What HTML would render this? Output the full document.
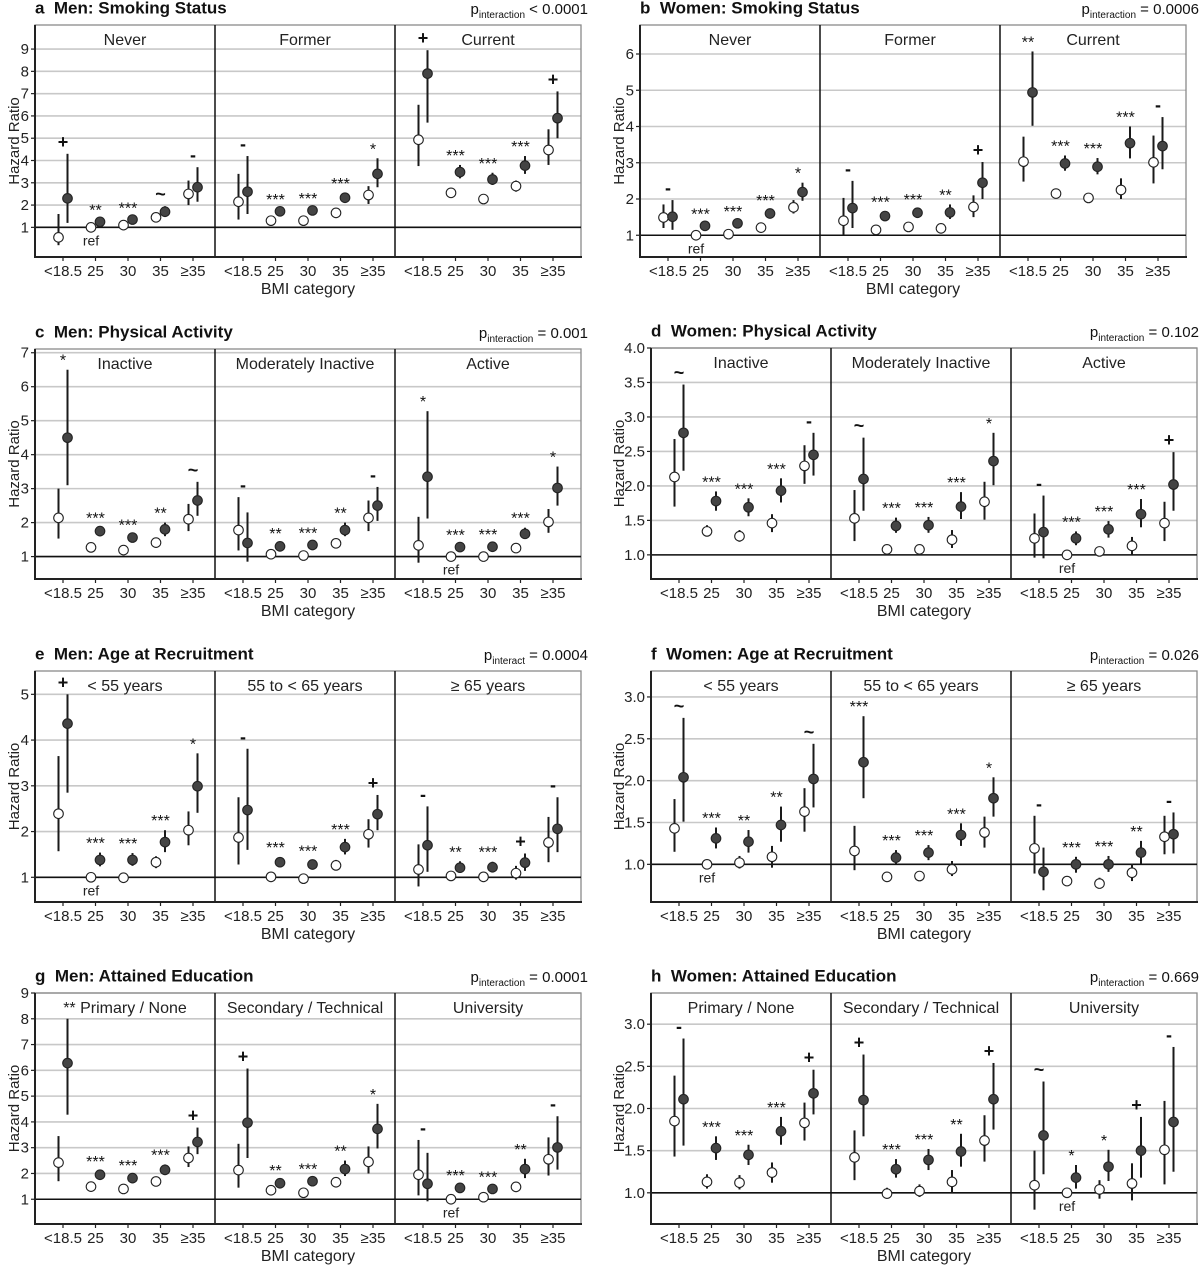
<!DOCTYPE html>
<html><head><meta charset="utf-8">
<style>
html,body{margin:0;padding:0;background:#fff;}
svg{display:block;font-family:"Liberation Sans",Arial,sans-serif;}
</style></head>
<body>
<svg id="chart" xmlns="http://www.w3.org/2000/svg" width="1200" height="1265" viewBox="0 0 1200 1265"></svg>
<script>
const CATS = ['<18.5','25','30','35','≥35'];

// Panel a: Men Smoking
const aOpenHR=[0.55,1.0,1.1,1.45,2.5, 2.15,1.3,1.3,1.65,2.45, 4.93,2.55,2.27,2.85,4.47];
const aOpenLo=[0.2,1.0,1.05,1.35,2.0, 1.35,1.22,1.22,1.57,2.05, 3.75,2.45,2.18,2.6,3.8];
const aOpenHi=[1.6,1.0,1.15,1.55,3.1, 3.4,1.4,1.4,1.75,2.85, 6.5,2.65,2.36,3.1,5.4];
const aFillHR=[2.3,1.25,1.35,1.7,2.8, 2.6,1.72,1.76,2.33,3.4, 7.9,3.48,3.15,3.77,5.9];
const aFillLo=[1.2,1.15,1.25,1.5,2.15, 1.6,1.62,1.66,2.15,2.8, 5.7,3.2,2.9,3.4,5.0];
const aFillHi=[4.3,1.35,1.45,1.95,3.7, 4.2,1.82,1.86,2.55,4.1, 8.95,3.8,3.45,4.2,7.1];
const aSig=['+','**','***','~','-', '-','***','***','***','*', '+','***','***','***','+'];
// Panel b: Women Smoking
const bOpenHR=[1.49,1.0,1.03,1.21,1.77, 1.4,1.15,1.23,1.19,1.78, 3.03,2.15,2.03,2.25,3.01];
const bOpenLo=[1.2,1.0,0.98,1.15,1.6, 1.0,1.1,1.17,1.1,1.5, 2.48,2.05,1.92,2.0,2.43];
const bOpenHi=[1.85,1.0,1.08,1.27,1.97, 2.03,1.2,1.29,1.3,2.1, 3.72,2.25,2.13,2.57,3.75];
const bFillHR=[1.51,1.26,1.33,1.6,2.19, 1.75,1.53,1.62,1.63,2.45, 4.94,2.98,2.89,3.54,3.46];
const bFillLo=[1.15,1.2,1.27,1.52,1.95, 1.2,1.43,1.5,1.45,2.0, 4.02,2.78,2.68,3.12,2.82];
const bFillHi=[1.97,1.32,1.39,1.7,2.45, 2.5,1.65,1.72,1.85,3.02, 6.07,3.2,3.13,4.0,4.26];
const bSig=['-','***','***','***','*', '-','***','***','**','+', '**','***','***','***','-'];
// Panel c: Men Physical Activity
const cOpenHR=[2.14,1.27,1.19,1.41,2.1, 1.78,1.07,1.03,1.39,2.14, 1.33,1.0,1.0,1.25,2.02];
const cOpenLo=[1.53,1.22,1.14,1.3,1.75, 1.18,1.02,0.99,1.3,1.75, 0.82,1.0,1.0,1.2,1.7];
const cOpenHi=[3.0,1.32,1.24,1.5,2.55, 2.75,1.12,1.07,1.5,2.65, 2.17,1.0,1.0,1.3,2.4];
const cFillHR=[4.5,1.75,1.56,1.8,2.65, 1.4,1.3,1.34,1.78,2.5, 3.35,1.28,1.29,1.67,3.02];
const cFillLo=[3.1,1.65,1.47,1.6,2.2, 0.85,1.22,1.26,1.6,2.05, 2.12,1.2,1.21,1.52,2.5];
const cFillHi=[6.5,1.85,1.65,2.0,3.2, 2.3,1.4,1.42,2.0,3.05, 5.28,1.36,1.37,1.85,3.65];
const cSig=['*','***','***','**','~', '-','**','***','**','-', '*','***','***','***','*'];
// Panel d: Women Physical Activity
const dOpenHR=[2.13,1.34,1.27,1.46,2.29, 1.53,1.08,1.08,1.22,1.77, 1.24,1.0,1.05,1.13,1.46];
const dOpenLo=[1.7,1.27,1.19,1.33,2.03, 1.2,1.02,1.02,1.1,1.51, 0.96,1.0,0.99,1.0,1.2];
const dOpenHi=[2.68,1.43,1.36,1.59,2.59, 1.94,1.13,1.14,1.36,2.06, 1.6,1.0,1.11,1.26,1.77];
const dFillHR=[2.77,1.78,1.69,1.93,2.45, 2.1,1.42,1.43,1.7,2.36, 1.33,1.24,1.37,1.59,2.02];
const dFillLo=[2.22,1.64,1.56,1.76,2.15, 1.64,1.32,1.32,1.52,2.01, 0.95,1.14,1.25,1.4,1.64];
const dFillHi=[3.47,1.92,1.82,2.11,2.77, 2.7,1.54,1.55,1.91,2.77, 1.86,1.34,1.49,1.81,2.49];
const dSig=['~','***','***','***','-', '~','***','***','***','*', '-','***','***','***','+'];
// Panel e: Men Age
const eOpenHR=[2.39,1.0,0.99,1.33,2.03, 1.87,1.01,0.97,1.26,1.94, 1.17,1.03,1.01,1.09,1.76];
const eOpenLo=[1.57,1.0,0.96,1.2,1.7, 1.28,0.98,0.94,1.15,1.65, 0.8,0.96,0.97,0.95,1.33];
const eOpenHi=[3.65,1.0,1.02,1.46,2.44, 2.75,1.04,1.0,1.38,2.27, 1.72,1.1,1.05,1.25,2.32];
const eFillHR=[4.36,1.38,1.38,1.77,2.99, 2.47,1.33,1.28,1.66,2.38, 1.7,1.21,1.22,1.32,2.06];
const eFillLo=[2.85,1.24,1.25,1.55,2.41, 1.6,1.22,1.2,1.5,2.03, 1.12,1.1,1.12,1.14,1.55];
const eFillHi=[5.0,1.54,1.53,2.03,3.71, 3.81,1.44,1.37,1.84,2.8, 2.55,1.35,1.34,1.52,2.75];
const eSig=['+','***','***','***','*', '-','***','***','***','+', '-','**','***','+','-'];
// Panel f: Women Age
const fOpenHR=[1.43,1.0,1.02,1.09,1.63, 1.16,0.85,0.86,0.94,1.38, 1.19,0.8,0.77,0.9,1.33];
const fOpenLo=[1.15,1.0,0.95,0.96,1.39, 0.93,0.8,0.8,0.86,1.2, 0.89,0.75,0.72,0.8,1.12];
const fOpenHi=[1.78,1.0,1.1,1.22,1.91, 1.46,0.9,0.92,1.04,1.57, 1.58,0.86,0.84,1.01,1.58];
const fFillHR=[2.04,1.31,1.27,1.47,2.02, 2.22,1.08,1.14,1.35,1.79, 0.91,1.0,1.0,1.14,1.36];
const fFillLo=[1.51,1.19,1.14,1.27,1.68, 1.79,1.0,1.05,1.22,1.57, 0.69,0.9,0.91,1.0,1.13];
const fFillHi=[2.75,1.44,1.41,1.69,2.44, 2.77,1.17,1.23,1.49,2.04, 1.2,1.09,1.1,1.28,1.62];
const fSig=['~','***','**','**','~', '***','***','***','***','*', '-','***','***','**','-'];
// Panel g: Men Education
const gOpenHR=[2.42,1.49,1.4,1.69,2.6, 2.13,1.35,1.25,1.66,2.45, 1.95,1.0,1.08,1.48,2.55];
const gOpenLo=[1.7,1.42,1.33,1.6,2.25, 1.45,1.28,1.18,1.55,2.0, 1.15,1.0,1.02,1.35,1.92];
const gOpenHi=[3.45,1.56,1.47,1.8,3.05, 3.15,1.42,1.32,1.8,3.05, 3.3,1.0,1.15,1.65,3.4];
const gFillHR=[6.28,1.95,1.82,2.14,3.22, 3.97,1.62,1.7,2.17,3.73, 1.6,1.44,1.4,2.17,3.01];
const gFillLo=[4.28,1.8,1.7,1.95,2.75, 2.6,1.5,1.6,1.9,2.97, 0.92,1.35,1.3,1.82,2.15];
const gFillHi=[8.0,2.1,1.95,2.35,3.78, 6.07,1.75,1.8,2.5,4.7, 2.8,1.55,1.5,2.57,4.22];
const gSig=['','***','***','***','+', '+','**','***','**','*', '-','***','***','**','-'];
// Panel h: Women Education
const hOpenHR=[1.85,1.13,1.12,1.24,1.83, 1.42,0.99,1.02,1.13,1.62, 1.09,1.0,1.04,1.11,1.51];
const hOpenLo=[1.43,1.05,1.04,1.12,1.62, 1.15,0.94,0.95,1.0,1.37, 0.8,1.0,0.93,0.91,1.1];
const hOpenHi=[2.39,1.22,1.21,1.36,2.07, 1.74,1.06,1.1,1.27,1.92, 1.5,1.0,1.15,1.35,2.09];
const hFillHR=[2.11,1.53,1.45,1.73,2.18, 2.1,1.28,1.39,1.49,2.11, 1.68,1.18,1.31,1.5,1.84];
const hFillLo=[1.56,1.39,1.33,1.57,1.93, 1.67,1.18,1.27,1.31,1.75, 1.22,1.05,1.14,1.18,1.25];
const hFillHi=[2.83,1.67,1.57,1.9,2.46, 2.64,1.4,1.52,1.7,2.54, 2.32,1.33,1.51,1.9,2.73];
const hSig=['-','***','***','***','+', '+','***','***','**','+', '~','*','*','+','-'];

const aTicks=[1,2,3,4,5,6,7,8,9];
const bTicks=[1,2,3,4,5,6];
const cTicks=[1,2,3,4,5,6,7];
const dTicks=[1.0,1.5,2.0,2.5,3.0,3.5,4.0];
const eTicks=[1,2,3,4,5];
const fTicks=[1.0,1.5,2.0,2.5,3.0];
const gTicks=[1,2,3,4,5,6,7,8,9];
const hTicks=[1.0,1.5,2.0,2.5,3.0];

const SMOKE=['Never','Former','Current'];
const PA=['Inactive','Moderately Inactive','Active'];
const AGE=['< 55 years','55 to < 65 years','≥ 65 years'];
const EDU_M=['** Primary / None','Secondary / Technical','University'];
const EDU_W=['Primary / None','Secondary / Technical','University'];

const panels=[
 {id:'a',title:'a\u00a0\u00a0Men: Smoking Status',psub:'interaction',pval:' < 0.0001',L:35,top:25,bottom:257,dom:[-0.33,10.08],ticks:aTicks,dec:0,facets:SMOKE,ref:0,oH:aOpenHR,oL:aOpenLo,oU:aOpenHi,fH:aFillHR,fL:aFillLo,fU:aFillHi,sig:aSig,yt:14,px:588},
 {id:'b',title:'b\u00a0\u00a0Women: Smoking Status',psub:'interaction',pval:' = 0.0006',L:640,top:25,bottom:257,dom:[0.40,6.80],ticks:bTicks,dec:0,facets:SMOKE,ref:0,oH:bOpenHR,oL:bOpenLo,oU:bOpenHi,fH:bFillHR,fL:bFillLo,fU:bFillHi,sig:bSig,yt:619,px:1199},
 {id:'c',title:'c\u00a0\u00a0Men: Physical Activity',psub:'interaction',pval:' = 0.001',L:35,top:349,bottom:579,dom:[0.34,7.11],ticks:cTicks,dec:0,facets:PA,ref:2,oH:cOpenHR,oL:cOpenLo,oU:cOpenHi,fH:cFillHR,fL:cFillLo,fU:cFillHi,sig:cSig,yt:14,px:588},
 {id:'d',title:'d\u00a0\u00a0Women: Physical Activity',psub:'interaction',pval:' = 0.102',L:651,top:348,bottom:579,dom:[0.65,4.0],ticks:dTicks,dec:1,facets:PA,ref:2,oH:dOpenHR,oL:dOpenLo,oU:dOpenHi,fH:dFillHR,fL:dFillLo,fU:dFillHi,sig:dSig,yt:619,px:1199},
 {id:'e',title:'e\u00a0\u00a0Men: Age at Recruitment',psub:'interact',pval:' = 0.0004',L:35,top:671,bottom:902,dom:[0.46,5.51],ticks:eTicks,dec:0,facets:AGE,ref:0,oH:eOpenHR,oL:eOpenLo,oU:eOpenHi,fH:eFillHR,fL:eFillLo,fU:eFillHi,sig:eSig,yt:14,px:588},
 {id:'f',title:'f\u00a0\u00a0Women: Age at Recruitment',psub:'interaction',pval:' = 0.026',L:651,top:671,bottom:902,dom:[0.55,3.31],ticks:fTicks,dec:1,facets:AGE,ref:0,oH:fOpenHR,oL:fOpenLo,oU:fOpenHi,fH:fFillHR,fL:fFillLo,fU:fFillHi,sig:fSig,yt:619,px:1199},
 {id:'g',title:'g\u00a0\u00a0Men: Attained Education',psub:'interaction',pval:' = 0.0001',L:35,top:993,bottom:1224,dom:[0.04,9.0],ticks:gTicks,dec:0,facets:EDU_M,ref:2,oH:gOpenHR,oL:gOpenLo,oU:gOpenHi,fH:gFillHR,fL:gFillLo,fU:gFillHi,sig:gSig,yt:14,px:588},
 {id:'h',title:'h\u00a0\u00a0Women: Attained Education',psub:'interaction',pval:' = 0.669',L:651,top:993,bottom:1224,dom:[0.63,3.37],ticks:hTicks,dec:1,facets:EDU_W,ref:2,oH:hOpenHR,oL:hOpenLo,oU:hOpenHi,fH:hFillHR,fL:hFillLo,fU:hFillHi,sig:hSig,yt:619,px:1199}
];

const NS='http://www.w3.org/2000/svg';
const svg=document.getElementById('chart');
function mk(tag,attrs,parent){const e=document.createElementNS(NS,tag);for(const k in attrs)e.setAttribute(k,attrs[k]);parent.appendChild(e);return e;}

const FW=[180,180,186];
panels.forEach(p=>{
  const g=mk('g',{},svg);
  
  
  const L=p.L, R=L+FW[0]+FW[1]+FW[2], T=p.top, B=p.bottom;
  const y=v=>B-(v-p.dom[0])/(p.dom[1]-p.dom[0])*(B-T);
  const fx=[L,L+FW[0],L+FW[0]+FW[1]];
  const xc=(f,i)=>fx[f]+28+i*32.5;

  const tt=mk('text',{x:L,y:T-11.5,'font-size':17,'font-weight':'bold',fill:'#111'},g);
  tt.textContent=p.title;
  
  
  const pt=mk('text',{x:p.px,y:T-11,'font-size':15,'text-anchor':'end',fill:'#111'},g);
  
  
  const s1=mk('tspan',{},pt);s1.textContent='p';
  const s2=mk('tspan',{'font-size':10,dy:4},pt);s2.textContent=p.psub;
  const s3=mk('tspan',{dy:-4},pt);s3.textContent=p.pval;

  p.ticks.forEach(v=>{
    const gl=mk('line',{x1:L,x2:R,y1:y(v),y2:y(v),stroke:'#c8c8c8','stroke-width':1.6},g);
    
    
  });
  const br=mk('rect',{x:L,y:T,width:R-L,height:B-T,fill:'none',stroke:'#8a8a8a','stroke-width':1.3},g);
  
  
  const rl=mk('line',{x1:L,x2:R,y1:y(1),y2:y(1),stroke:'#111','stroke-width':1.6},g);
  
  
  [fx[1],fx[2]].forEach(xx=>{
    const sl=mk('line',{x1:xx,x2:xx,y1:T,y2:B,stroke:'#111','stroke-width':1.5},g);
    
    
  });
  const ya=mk('line',{x1:L,x2:L,y1:T,y2:B+1,stroke:'#222','stroke-width':2},g);
  
  
  const xa=mk('line',{x1:L-1,x2:R+1,y1:B,y2:B,stroke:'#222','stroke-width':2},g);
  
  
  p.ticks.forEach(v=>{
    const tk=mk('line',{x1:L-4,x2:L,y1:y(v),y2:y(v),stroke:'#222','stroke-width':1.2},g);
    
    
    const tl=mk('text',{x:L-6,y:y(v)+5,'font-size':15,'text-anchor':'end',fill:'#222'},g);
    tl.textContent=v.toFixed(p.dec);
    
    
  });
  const yt=mk('text',{x:p.yt,y:(T+B)/2,'font-size':15,'text-anchor':'middle',fill:'#222',transform:'rotate(-90 '+p.yt+' '+((T+B)/2)+')',dy:5},g);
  yt.textContent='Hazard Ratio';
  
  
  const xt=mk('text',{x:(L+R)/2,y:B+37,'font-size':16,'text-anchor':'middle',fill:'#222'},g);
  xt.textContent='BMI category';
  
  

  for(let f=0;f<3;f++){
    const st=mk('text',{x:fx[f]+FW[f]/2,y:T+20,'font-size':16,'text-anchor':'middle',fill:'#222'},g);
    st.textContent=p.facets[f];
    
    
    for(let i=0;i<5;i++){
      const k=f*5+i, cx=xc(f,i);
      const xk=mk('line',{x1:cx,x2:cx,y1:B,y2:B+4,stroke:'#222','stroke-width':1.2},g);
      
      
      const xl=mk('text',{x:cx,y:B+19,'font-size':15,'text-anchor':'middle',fill:'#222'},g);
      xl.textContent=CATS[i];
      
      
      const ox=cx-4.5, fxx=cx+4.5;
      if(p.oU[k]-p.oL[k]>0.001){
        const ol=mk('line',{x1:ox,x2:ox,y1:y(p.oL[k]),y2:y(p.oU[k]),stroke:'#1a1a1a','stroke-width':2},g);
        
        
      }
      if(p.fU[k]-p.fL[k]>0.001){
        const fl=mk('line',{x1:fxx,x2:fxx,y1:y(p.fL[k]),y2:y(p.fU[k]),stroke:'#1a1a1a','stroke-width':2},g);
        
        
      }
      const oc=mk('circle',{cx:ox,cy:y(p.oH[k]),r:4.8,fill:'#fff',stroke:'#222','stroke-width':1.1},g);
      
      
      const fc=mk('circle',{cx:fxx,cy:y(p.fH[k]),r:4.8,fill:'#444',stroke:'#222','stroke-width':1.1},g);
      
      
      if(p.sig[k]){
        const top=Math.max(p.oU[k],p.fU[k],p.oH[k],p.fH[k]);
        const isStar=p.sig[k].indexOf('*')>=0;
        const an=mk('text',{x:cx,y:y(top)-(isStar?4:6),'font-size':isStar?16:18,'text-anchor':'middle',fill:'#111','font-weight':isStar?'normal':'bold'},g);
        an.textContent=p.sig[k];
        
        
      }
      if(f===p.ref && i===1){
        const rf=mk('text',{x:ox,y:y(1)+18,'font-size':14,'text-anchor':'middle',fill:'#222'},g);
        rf.textContent='ref';
        
        
      }
    }
  }
});
</script>
</body></html>
